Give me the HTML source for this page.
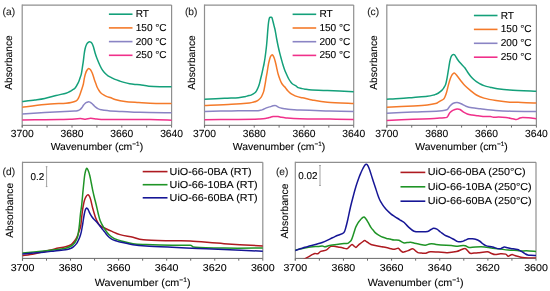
<!DOCTYPE html>
<html><head><meta charset="utf-8"><title>Figure</title>
<style>html,body{margin:0;padding:0;background:#fff;}body{width:550px;height:291px;overflow:hidden;}svg{display:block;}</style>
</head><body>
<svg width="550" height="291" viewBox="0 0 550 291" font-family="'Liberation Sans', Arial, sans-serif" text-rendering="geometricPrecision" fill="#000" stroke="#000" stroke-width="0.1"><defs><clipPath id="pa"><rect x="22.20" y="5.10" width="149.40" height="120.20"/></clipPath><clipPath id="pb"><rect x="204.50" y="5.10" width="149.20" height="120.20"/></clipPath><clipPath id="pc"><rect x="386.80" y="5.10" width="149.60" height="120.20"/></clipPath><clipPath id="pd"><rect x="22.50" y="162.30" width="240.30" height="96.10"/></clipPath><clipPath id="pe"><rect x="295.30" y="162.30" width="240.70" height="96.10"/></clipPath></defs><line x1="22.20" y1="5.10" x2="171.60" y2="5.10" stroke="#8f8f8f" stroke-width="1.20"/>
<line x1="171.60" y1="5.10" x2="171.60" y2="125.30" stroke="#8f8f8f" stroke-width="1.20"/>
<line x1="22.20" y1="4.50" x2="22.20" y2="127.50" stroke="#8f8f8f" stroke-width="1.20"/>
<line x1="22.20" y1="125.30" x2="171.60" y2="125.30" stroke="#6a6a6a" stroke-width="1.00"/>
<line x1="22.20" y1="125.30" x2="22.20" y2="127.60" stroke="#6a6a6a" stroke-width="1.00"/>
<text x="22.20" y="136.90" font-size="10.30" text-anchor="middle">3700</text>
<line x1="72.00" y1="125.30" x2="72.00" y2="127.60" stroke="#6a6a6a" stroke-width="1.00"/>
<text x="72.00" y="136.90" font-size="10.30" text-anchor="middle">3680</text>
<line x1="121.80" y1="125.30" x2="121.80" y2="127.60" stroke="#6a6a6a" stroke-width="1.00"/>
<text x="121.80" y="136.90" font-size="10.30" text-anchor="middle">3660</text>
<line x1="171.60" y1="125.30" x2="171.60" y2="127.60" stroke="#6a6a6a" stroke-width="1.00"/>
<text x="171.60" y="136.90" font-size="10.30" text-anchor="middle">3640</text>
<line x1="47.10" y1="125.30" x2="47.10" y2="127.60" stroke="#6a6a6a" stroke-width="1.00"/>
<line x1="96.90" y1="125.30" x2="96.90" y2="127.60" stroke="#6a6a6a" stroke-width="1.00"/>
<line x1="146.70" y1="125.30" x2="146.70" y2="127.60" stroke="#6a6a6a" stroke-width="1.00"/>
<text x="96.90" y="149.70" font-size="10.20" text-anchor="middle" transform="translate(96.90 0) scale(1.0200 1) translate(-96.90 0)">Wavenumber (cm<tspan font-size="6.32" dy="-4">&#8722;1</tspan><tspan dy="4">)</tspan></text>
<text x="12.20" y="62.50" font-size="10.20" text-anchor="middle" transform="rotate(-90 12.20 62.50) translate(12.20 62.50) scale(1.0000 1) translate(-12.20 -62.50)">Absorbance</text>
<text x="2.60" y="14.50" font-size="10.20" text-anchor="start" fill="#222" stroke="#222">(a)</text>
<line x1="204.50" y1="5.10" x2="353.70" y2="5.10" stroke="#8f8f8f" stroke-width="1.20"/>
<line x1="353.70" y1="5.10" x2="353.70" y2="125.30" stroke="#8f8f8f" stroke-width="1.20"/>
<line x1="204.50" y1="4.50" x2="204.50" y2="127.50" stroke="#8f8f8f" stroke-width="1.20"/>
<line x1="204.50" y1="125.30" x2="353.70" y2="125.30" stroke="#6a6a6a" stroke-width="1.00"/>
<line x1="204.50" y1="125.30" x2="204.50" y2="127.60" stroke="#6a6a6a" stroke-width="1.00"/>
<text x="204.50" y="136.90" font-size="10.30" text-anchor="middle">3700</text>
<line x1="254.23" y1="125.30" x2="254.23" y2="127.60" stroke="#6a6a6a" stroke-width="1.00"/>
<text x="254.23" y="136.90" font-size="10.30" text-anchor="middle">3680</text>
<line x1="303.97" y1="125.30" x2="303.97" y2="127.60" stroke="#6a6a6a" stroke-width="1.00"/>
<text x="303.97" y="136.90" font-size="10.30" text-anchor="middle">3660</text>
<line x1="353.70" y1="125.30" x2="353.70" y2="127.60" stroke="#6a6a6a" stroke-width="1.00"/>
<text x="353.70" y="136.90" font-size="10.30" text-anchor="middle">3640</text>
<line x1="229.37" y1="125.30" x2="229.37" y2="127.60" stroke="#6a6a6a" stroke-width="1.00"/>
<line x1="279.10" y1="125.30" x2="279.10" y2="127.60" stroke="#6a6a6a" stroke-width="1.00"/>
<line x1="328.83" y1="125.30" x2="328.83" y2="127.60" stroke="#6a6a6a" stroke-width="1.00"/>
<text x="279.10" y="149.70" font-size="10.20" text-anchor="middle" transform="translate(279.10 0) scale(1.0200 1) translate(-279.10 0)">Wavenumber (cm<tspan font-size="6.32" dy="-4">&#8722;1</tspan><tspan dy="4">)</tspan></text>
<text x="194.50" y="62.50" font-size="10.20" text-anchor="middle" transform="rotate(-90 194.50 62.50) translate(194.50 62.50) scale(1.0000 1) translate(-194.50 -62.50)">Absorbance</text>
<text x="184.90" y="14.50" font-size="10.20" text-anchor="start" fill="#222" stroke="#222">(b)</text>
<line x1="386.80" y1="5.10" x2="536.40" y2="5.10" stroke="#8f8f8f" stroke-width="1.20"/>
<line x1="536.40" y1="5.10" x2="536.40" y2="125.30" stroke="#8f8f8f" stroke-width="1.20"/>
<line x1="386.80" y1="4.50" x2="386.80" y2="127.50" stroke="#8f8f8f" stroke-width="1.20"/>
<line x1="386.80" y1="125.30" x2="536.40" y2="125.30" stroke="#6a6a6a" stroke-width="1.00"/>
<line x1="386.80" y1="125.30" x2="386.80" y2="127.60" stroke="#6a6a6a" stroke-width="1.00"/>
<text x="386.80" y="136.90" font-size="10.30" text-anchor="middle">3700</text>
<line x1="436.67" y1="125.30" x2="436.67" y2="127.60" stroke="#6a6a6a" stroke-width="1.00"/>
<text x="436.67" y="136.90" font-size="10.30" text-anchor="middle">3680</text>
<line x1="486.53" y1="125.30" x2="486.53" y2="127.60" stroke="#6a6a6a" stroke-width="1.00"/>
<text x="486.53" y="136.90" font-size="10.30" text-anchor="middle">3660</text>
<line x1="536.40" y1="125.30" x2="536.40" y2="127.60" stroke="#6a6a6a" stroke-width="1.00"/>
<text x="536.40" y="136.90" font-size="10.30" text-anchor="middle">3640</text>
<line x1="411.73" y1="125.30" x2="411.73" y2="127.60" stroke="#6a6a6a" stroke-width="1.00"/>
<line x1="461.60" y1="125.30" x2="461.60" y2="127.60" stroke="#6a6a6a" stroke-width="1.00"/>
<line x1="511.47" y1="125.30" x2="511.47" y2="127.60" stroke="#6a6a6a" stroke-width="1.00"/>
<text x="461.60" y="149.70" font-size="10.20" text-anchor="middle" transform="translate(461.60 0) scale(1.0200 1) translate(-461.60 0)">Wavenumber (cm<tspan font-size="6.32" dy="-4">&#8722;1</tspan><tspan dy="4">)</tspan></text>
<text x="376.80" y="62.50" font-size="10.20" text-anchor="middle" transform="rotate(-90 376.80 62.50) translate(376.80 62.50) scale(1.0000 1) translate(-376.80 -62.50)">Absorbance</text>
<text x="367.20" y="14.50" font-size="10.20" text-anchor="start" fill="#222" stroke="#222">(c)</text>
<line x1="22.50" y1="162.30" x2="262.80" y2="162.30" stroke="#8f8f8f" stroke-width="1.20"/>
<line x1="262.80" y1="162.30" x2="262.80" y2="258.40" stroke="#8f8f8f" stroke-width="1.20"/>
<line x1="22.50" y1="161.70" x2="22.50" y2="260.60" stroke="#8f8f8f" stroke-width="1.20"/>
<line x1="22.50" y1="258.40" x2="262.80" y2="258.40" stroke="#6a6a6a" stroke-width="1.00"/>
<line x1="22.50" y1="258.40" x2="22.50" y2="260.70" stroke="#6a6a6a" stroke-width="1.00"/>
<text x="22.50" y="271.00" font-size="10.00" text-anchor="middle" transform="translate(22.50 0) scale(1.0660 1) translate(-22.50 0)">3700</text>
<line x1="70.56" y1="258.40" x2="70.56" y2="260.70" stroke="#6a6a6a" stroke-width="1.00"/>
<text x="70.56" y="271.00" font-size="10.00" text-anchor="middle" transform="translate(70.56 0) scale(1.0660 1) translate(-70.56 0)">3680</text>
<line x1="118.62" y1="258.40" x2="118.62" y2="260.70" stroke="#6a6a6a" stroke-width="1.00"/>
<text x="118.62" y="271.00" font-size="10.00" text-anchor="middle" transform="translate(118.62 0) scale(1.0660 1) translate(-118.62 0)">3660</text>
<line x1="166.68" y1="258.40" x2="166.68" y2="260.70" stroke="#6a6a6a" stroke-width="1.00"/>
<text x="166.68" y="271.00" font-size="10.00" text-anchor="middle" transform="translate(166.68 0) scale(1.0660 1) translate(-166.68 0)">3640</text>
<line x1="214.74" y1="258.40" x2="214.74" y2="260.70" stroke="#6a6a6a" stroke-width="1.00"/>
<text x="214.74" y="271.00" font-size="10.00" text-anchor="middle" transform="translate(214.74 0) scale(1.0660 1) translate(-214.74 0)">3620</text>
<line x1="262.80" y1="258.40" x2="262.80" y2="260.70" stroke="#6a6a6a" stroke-width="1.00"/>
<text x="262.80" y="271.00" font-size="10.00" text-anchor="middle" transform="translate(262.80 0) scale(1.0660 1) translate(-262.80 0)">3600</text>
<line x1="46.53" y1="258.40" x2="46.53" y2="260.70" stroke="#6a6a6a" stroke-width="1.00"/>
<line x1="94.59" y1="258.40" x2="94.59" y2="260.70" stroke="#6a6a6a" stroke-width="1.00"/>
<line x1="142.65" y1="258.40" x2="142.65" y2="260.70" stroke="#6a6a6a" stroke-width="1.00"/>
<line x1="190.71" y1="258.40" x2="190.71" y2="260.70" stroke="#6a6a6a" stroke-width="1.00"/>
<line x1="238.77" y1="258.40" x2="238.77" y2="260.70" stroke="#6a6a6a" stroke-width="1.00"/>
<text x="142.65" y="285.80" font-size="10.30" text-anchor="middle" transform="translate(142.65 0) scale(1.0450 1) translate(-142.65 0)">Wavenumber (cm<tspan font-size="6.39" dy="-4">&#8722;1</tspan><tspan dy="4">)</tspan></text>
<text x="13.20" y="210.30" font-size="10.30" text-anchor="middle" transform="rotate(-90 13.20 210.30) translate(13.20 210.30) scale(1.0000 1) translate(-13.20 -210.30)">Absorbance</text>
<text x="2.60" y="174.50" font-size="10.20" text-anchor="start" fill="#222" stroke="#222">(d)</text>
<line x1="295.30" y1="162.30" x2="536.00" y2="162.30" stroke="#8f8f8f" stroke-width="1.20"/>
<line x1="536.00" y1="162.30" x2="536.00" y2="258.40" stroke="#8f8f8f" stroke-width="1.20"/>
<line x1="295.30" y1="161.70" x2="295.30" y2="260.60" stroke="#8f8f8f" stroke-width="1.20"/>
<line x1="295.30" y1="258.40" x2="536.00" y2="258.40" stroke="#6a6a6a" stroke-width="1.00"/>
<line x1="295.30" y1="258.40" x2="295.30" y2="260.70" stroke="#6a6a6a" stroke-width="1.00"/>
<text x="295.30" y="271.00" font-size="10.00" text-anchor="middle" transform="translate(295.30 0) scale(1.0660 1) translate(-295.30 0)">3700</text>
<line x1="343.44" y1="258.40" x2="343.44" y2="260.70" stroke="#6a6a6a" stroke-width="1.00"/>
<text x="343.44" y="271.00" font-size="10.00" text-anchor="middle" transform="translate(343.44 0) scale(1.0660 1) translate(-343.44 0)">3680</text>
<line x1="391.58" y1="258.40" x2="391.58" y2="260.70" stroke="#6a6a6a" stroke-width="1.00"/>
<text x="391.58" y="271.00" font-size="10.00" text-anchor="middle" transform="translate(391.58 0) scale(1.0660 1) translate(-391.58 0)">3660</text>
<line x1="439.72" y1="258.40" x2="439.72" y2="260.70" stroke="#6a6a6a" stroke-width="1.00"/>
<text x="439.72" y="271.00" font-size="10.00" text-anchor="middle" transform="translate(439.72 0) scale(1.0660 1) translate(-439.72 0)">3640</text>
<line x1="487.86" y1="258.40" x2="487.86" y2="260.70" stroke="#6a6a6a" stroke-width="1.00"/>
<text x="487.86" y="271.00" font-size="10.00" text-anchor="middle" transform="translate(487.86 0) scale(1.0660 1) translate(-487.86 0)">3620</text>
<line x1="536.00" y1="258.40" x2="536.00" y2="260.70" stroke="#6a6a6a" stroke-width="1.00"/>
<text x="536.00" y="271.00" font-size="10.00" text-anchor="middle" transform="translate(536.00 0) scale(1.0660 1) translate(-536.00 0)">3600</text>
<line x1="319.37" y1="258.40" x2="319.37" y2="260.70" stroke="#6a6a6a" stroke-width="1.00"/>
<line x1="367.51" y1="258.40" x2="367.51" y2="260.70" stroke="#6a6a6a" stroke-width="1.00"/>
<line x1="415.65" y1="258.40" x2="415.65" y2="260.70" stroke="#6a6a6a" stroke-width="1.00"/>
<line x1="463.79" y1="258.40" x2="463.79" y2="260.70" stroke="#6a6a6a" stroke-width="1.00"/>
<line x1="511.93" y1="258.40" x2="511.93" y2="260.70" stroke="#6a6a6a" stroke-width="1.00"/>
<text x="415.65" y="285.80" font-size="10.30" text-anchor="middle" transform="translate(415.65 0) scale(1.0450 1) translate(-415.65 0)">Wavenumber (cm<tspan font-size="6.39" dy="-4">&#8722;1</tspan><tspan dy="4">)</tspan></text>
<text x="287.90" y="211.00" font-size="10.30" text-anchor="middle" transform="rotate(-90 287.90 211.00) translate(287.90 211.00) scale(1.0000 1) translate(-287.90 -211.00)">Absorbance</text>
<text x="275.90" y="174.50" font-size="10.20" text-anchor="start" fill="#222" stroke="#222">(e)</text>
<path d="M22.20,101.50 C24.33,101.25 31.25,100.50 35.00,100.00 C38.75,99.50 41.20,99.25 44.70,98.50 C48.20,97.75 52.45,96.38 56.00,95.50 C59.55,94.62 63.70,93.87 66.00,93.20 C68.30,92.53 68.72,92.07 69.80,91.50 C70.88,90.93 71.65,90.35 72.50,89.80 C73.35,89.25 74.15,89.00 74.90,88.20 C75.65,87.40 76.37,86.07 77.00,85.00 C77.63,83.93 78.20,82.97 78.70,81.80 C79.20,80.63 79.57,79.27 80.00,78.00 C80.43,76.73 80.92,75.87 81.30,74.20 C81.68,72.53 81.97,70.13 82.30,68.00 C82.63,65.87 82.98,63.73 83.30,61.40 C83.62,59.07 83.90,56.12 84.20,54.00 C84.50,51.88 84.72,50.28 85.10,48.70 C85.48,47.12 85.98,45.57 86.50,44.50 C87.02,43.43 87.60,42.73 88.20,42.30 C88.80,41.87 89.47,41.73 90.10,41.90 C90.73,42.07 91.43,42.45 92.00,43.30 C92.57,44.15 92.98,45.38 93.50,47.00 C94.02,48.62 94.52,51.08 95.10,53.00 C95.68,54.92 96.15,56.33 97.00,58.50 C97.85,60.67 99.28,64.05 100.20,66.00 C101.12,67.95 101.65,68.95 102.50,70.20 C103.35,71.45 104.38,72.57 105.30,73.50 C106.22,74.43 106.98,75.12 108.00,75.80 C109.02,76.48 110.23,77.00 111.40,77.60 C112.57,78.20 113.65,78.83 115.00,79.40 C116.35,79.97 118.00,80.50 119.50,81.00 C121.00,81.50 122.32,81.95 124.00,82.40 C125.68,82.85 127.77,83.37 129.60,83.70 C131.43,84.03 133.27,84.22 135.00,84.40 C136.73,84.58 137.68,84.50 140.00,84.80 C142.32,85.10 145.57,85.87 148.90,86.20 C152.23,86.53 156.27,86.70 160.00,86.80 C163.73,86.90 169.42,86.80 171.30,86.80" fill="none" stroke="#14a07a" stroke-width="1.50" stroke-linejoin="round" stroke-linecap="round" clip-path="url(#pa)"/>
<path d="M22.20,107.20 C25.95,106.73 37.40,105.07 44.70,104.40 C52.00,103.73 61.45,103.55 66.00,103.20 C70.55,102.85 70.30,102.68 72.00,102.30 C73.70,101.92 75.12,101.62 76.20,100.90 C77.28,100.18 77.87,99.07 78.50,98.00 C79.13,96.93 79.50,95.83 80.00,94.50 C80.50,93.17 80.95,91.70 81.50,90.00 C82.05,88.30 82.83,86.22 83.30,84.30 C83.77,82.38 83.97,80.18 84.30,78.50 C84.63,76.82 84.88,75.53 85.30,74.20 C85.72,72.87 86.23,71.45 86.80,70.50 C87.37,69.55 88.08,68.62 88.70,68.50 C89.32,68.38 89.95,69.13 90.50,69.80 C91.05,70.47 91.57,71.55 92.00,72.50 C92.43,73.45 92.68,74.25 93.10,75.50 C93.52,76.75 94.02,78.58 94.50,80.00 C94.98,81.42 95.55,82.80 96.00,84.00 C96.45,85.20 96.70,86.12 97.20,87.20 C97.70,88.28 98.33,89.48 99.00,90.50 C99.67,91.52 100.33,92.52 101.20,93.30 C102.07,94.08 103.23,94.65 104.20,95.20 C105.17,95.75 105.87,96.17 107.00,96.60 C108.13,97.03 109.67,97.32 111.00,97.80 C112.33,98.28 112.67,98.88 115.00,99.50 C117.33,100.12 121.07,101.00 125.00,101.50 C128.93,102.00 134.43,102.22 138.60,102.50 C142.77,102.78 144.55,103.02 150.00,103.20 C155.45,103.38 167.75,103.53 171.30,103.60" fill="none" stroke="#f47a2a" stroke-width="1.50" stroke-linejoin="round" stroke-linecap="round" clip-path="url(#pa)"/>
<path d="M22.20,114.00 C25.95,113.77 36.73,113.05 44.70,112.60 C52.67,112.15 64.75,111.57 70.00,111.30 C75.25,111.03 74.78,111.15 76.20,111.00 C77.62,110.85 77.82,110.67 78.50,110.40 C79.18,110.13 79.72,109.88 80.30,109.40 C80.88,108.92 81.48,108.18 82.00,107.50 C82.52,106.82 82.90,105.97 83.40,105.30 C83.90,104.63 84.48,103.98 85.00,103.50 C85.52,103.02 86.00,102.67 86.50,102.40 C87.00,102.13 87.57,101.98 88.00,101.90 C88.43,101.82 88.65,101.78 89.10,101.90 C89.55,102.02 90.18,102.28 90.70,102.60 C91.22,102.92 91.68,103.33 92.20,103.80 C92.72,104.27 93.28,104.88 93.80,105.40 C94.32,105.92 94.80,106.47 95.30,106.90 C95.80,107.33 96.28,107.67 96.80,108.00 C97.32,108.33 97.70,108.62 98.40,108.90 C99.10,109.18 100.07,109.47 101.00,109.70 C101.93,109.93 102.50,110.10 104.00,110.30 C105.50,110.50 107.00,110.72 110.00,110.90 C113.00,111.08 117.00,111.17 122.00,111.40 C127.00,111.63 131.73,112.08 140.00,112.30 C148.27,112.52 166.33,112.63 171.60,112.70" fill="none" stroke="#8a84c4" stroke-width="1.50" stroke-linejoin="round" stroke-linecap="round" clip-path="url(#pa)"/>
<path d="M22.20,120.00 C26.00,119.95 38.70,119.78 45.00,119.70 C51.30,119.62 55.83,119.57 60.00,119.50 C64.17,119.43 66.62,119.45 70.00,119.30 C73.38,119.15 77.72,118.62 80.30,118.60 C82.88,118.58 83.78,119.25 85.50,119.20 C87.22,119.15 88.72,118.33 90.60,118.30 C92.48,118.27 94.57,118.78 96.80,119.00 C99.03,119.22 100.13,119.52 104.00,119.60 C107.87,119.68 112.33,119.50 120.00,119.50 C127.67,119.50 141.40,119.48 150.00,119.60 C158.60,119.72 168.00,120.10 171.60,120.20" fill="none" stroke="#f0308a" stroke-width="1.50" stroke-linejoin="round" stroke-linecap="round" clip-path="url(#pa)"/>
<path d="M204.50,99.30 C207.85,99.13 218.95,98.57 224.60,98.30 C230.25,98.03 235.00,97.97 238.40,97.70 C241.80,97.43 243.40,97.02 245.00,96.70 C246.60,96.38 247.00,96.07 248.00,95.80 C249.00,95.53 249.90,95.57 251.00,95.10 C252.10,94.63 253.68,93.72 254.60,93.00 C255.52,92.28 255.95,91.63 256.50,90.80 C257.05,89.97 257.45,89.05 257.90,88.00 C258.35,86.95 258.78,85.87 259.20,84.50 C259.62,83.13 259.98,81.47 260.40,79.80 C260.82,78.13 261.28,76.30 261.70,74.50 C262.12,72.70 262.52,70.75 262.90,69.00 C263.28,67.25 263.65,65.83 264.00,64.00 C264.35,62.17 264.70,60.00 265.00,58.00 C265.30,56.00 265.53,54.17 265.80,52.00 C266.07,49.83 266.37,47.33 266.60,45.00 C266.83,42.67 267.00,40.50 267.20,38.00 C267.40,35.50 267.57,32.67 267.80,30.00 C268.03,27.33 268.30,24.07 268.60,22.00 C268.90,19.93 269.23,18.38 269.60,17.60 C269.97,16.82 270.42,17.30 270.80,17.30 C271.18,17.30 271.53,16.90 271.90,17.60 C272.27,18.30 272.65,20.17 273.00,21.50 C273.35,22.83 273.65,24.18 274.00,25.60 C274.35,27.02 274.67,27.85 275.10,30.00 C275.53,32.15 276.08,35.75 276.60,38.50 C277.12,41.25 277.68,44.10 278.20,46.50 C278.72,48.90 279.18,50.83 279.70,52.90 C280.22,54.97 280.78,57.00 281.30,58.90 C281.82,60.80 282.28,62.58 282.80,64.30 C283.32,66.02 283.80,67.58 284.40,69.20 C285.00,70.82 285.72,72.45 286.40,74.00 C287.08,75.55 287.82,77.23 288.50,78.50 C289.18,79.77 289.82,80.68 290.50,81.60 C291.18,82.52 291.68,83.28 292.60,84.00 C293.52,84.72 295.08,85.30 296.00,85.90 C296.92,86.50 297.18,87.17 298.10,87.60 C299.02,88.03 300.35,88.23 301.50,88.50 C302.65,88.77 303.23,88.95 305.00,89.20 C306.77,89.45 308.37,89.78 312.10,90.00 C315.83,90.22 320.47,90.20 327.40,90.50 C334.33,90.80 349.32,91.58 353.70,91.80" fill="none" stroke="#14a07a" stroke-width="1.50" stroke-linejoin="round" stroke-linecap="round" clip-path="url(#pb)"/>
<path d="M204.50,105.60 C209.00,105.38 224.02,104.75 231.50,104.30 C238.98,103.85 245.82,103.25 249.40,102.90 C252.98,102.55 251.85,102.47 253.00,102.20 C254.15,101.93 255.30,101.75 256.30,101.30 C257.30,100.85 258.18,100.20 259.00,99.50 C259.82,98.80 260.62,97.93 261.20,97.10 C261.78,96.27 262.08,95.45 262.50,94.50 C262.92,93.55 263.37,92.57 263.70,91.40 C264.03,90.23 264.23,88.88 264.50,87.50 C264.77,86.12 265.03,84.68 265.30,83.10 C265.57,81.52 265.82,79.65 266.10,78.00 C266.38,76.35 266.72,74.87 267.00,73.20 C267.28,71.53 267.53,69.65 267.80,68.00 C268.07,66.35 268.32,64.68 268.60,63.30 C268.88,61.92 269.18,60.82 269.50,59.70 C269.82,58.58 270.10,57.40 270.50,56.60 C270.90,55.80 271.48,55.08 271.90,54.90 C272.32,54.72 272.63,55.02 273.00,55.50 C273.37,55.98 273.75,56.88 274.10,57.80 C274.45,58.72 274.77,59.80 275.10,61.00 C275.43,62.20 275.77,63.55 276.10,65.00 C276.43,66.45 276.75,68.15 277.10,69.70 C277.45,71.25 277.77,72.78 278.20,74.30 C278.63,75.82 279.18,77.42 279.70,78.80 C280.22,80.18 280.70,81.48 281.30,82.60 C281.90,83.72 282.62,84.65 283.30,85.50 C283.98,86.35 284.70,86.87 285.40,87.70 C286.10,88.53 286.75,89.65 287.50,90.50 C288.25,91.35 288.95,92.08 289.90,92.80 C290.85,93.52 292.07,94.20 293.20,94.80 C294.33,95.40 295.43,95.95 296.70,96.40 C297.97,96.85 299.42,97.18 300.80,97.50 C302.18,97.82 303.12,97.88 305.00,98.30 C306.88,98.72 308.37,99.35 312.10,100.00 C315.83,100.65 320.47,101.62 327.40,102.20 C334.33,102.78 349.32,103.28 353.70,103.50" fill="none" stroke="#f47a2a" stroke-width="1.50" stroke-linejoin="round" stroke-linecap="round" clip-path="url(#pb)"/>
<path d="M204.50,111.40 C209.00,111.32 223.08,111.02 231.50,110.90 C239.92,110.78 250.22,110.80 255.00,110.70 C259.78,110.60 258.87,110.50 260.20,110.30 C261.53,110.10 262.15,109.82 263.00,109.50 C263.85,109.18 264.47,108.75 265.30,108.40 C266.13,108.05 267.13,107.70 268.00,107.40 C268.87,107.10 269.67,106.87 270.50,106.60 C271.33,106.33 272.23,105.98 273.00,105.80 C273.77,105.62 274.52,105.48 275.10,105.50 C275.68,105.52 276.07,105.70 276.50,105.90 C276.93,106.10 277.20,106.42 277.70,106.70 C278.20,106.98 278.82,107.35 279.50,107.60 C280.18,107.85 280.97,108.02 281.80,108.20 C282.63,108.38 283.47,108.53 284.50,108.70 C285.53,108.87 286.42,109.03 288.00,109.20 C289.58,109.37 292.00,109.57 294.00,109.70 C296.00,109.83 296.50,109.87 300.00,110.00 C303.50,110.13 310.00,110.32 315.00,110.50 C320.00,110.68 323.55,110.95 330.00,111.10 C336.45,111.25 349.75,111.35 353.70,111.40" fill="none" stroke="#8a84c4" stroke-width="1.50" stroke-linejoin="round" stroke-linecap="round" clip-path="url(#pb)"/>
<path d="M204.50,119.70 C209.00,119.67 223.08,119.57 231.50,119.50 C239.92,119.43 250.25,119.38 255.00,119.30 C259.75,119.22 258.28,119.13 260.00,119.00 C261.72,118.87 263.97,118.68 265.30,118.50 C266.63,118.32 267.13,118.12 268.00,117.90 C268.87,117.68 269.67,117.42 270.50,117.20 C271.33,116.98 272.15,116.73 273.00,116.60 C273.85,116.47 274.77,116.40 275.60,116.40 C276.43,116.40 277.13,116.47 278.00,116.60 C278.87,116.73 279.47,116.98 280.80,117.20 C282.13,117.42 282.80,117.65 286.00,117.90 C289.20,118.15 292.67,118.50 300.00,118.70 C307.33,118.90 321.05,118.98 330.00,119.10 C338.95,119.22 349.75,119.35 353.70,119.40" fill="none" stroke="#f0308a" stroke-width="1.50" stroke-linejoin="round" stroke-linecap="round" clip-path="url(#pb)"/>
<path d="M386.80,99.20 C388.97,99.08 395.35,98.80 399.80,98.50 C404.25,98.20 408.92,97.77 413.50,97.40 C418.08,97.03 423.87,96.72 427.30,96.30 C430.73,95.88 432.65,95.25 434.10,94.90 C435.55,94.55 435.27,94.52 436.00,94.20 C436.73,93.88 437.53,93.63 438.50,93.00 C439.47,92.37 440.92,91.27 441.80,90.40 C442.68,89.53 443.17,88.77 443.80,87.80 C444.43,86.83 445.10,85.98 445.60,84.60 C446.10,83.22 446.42,81.42 446.80,79.50 C447.18,77.58 447.55,75.18 447.90,73.10 C448.25,71.02 448.58,68.93 448.90,67.00 C449.22,65.07 449.45,63.17 449.80,61.50 C450.15,59.83 450.58,58.10 451.00,57.00 C451.42,55.90 451.88,55.33 452.30,54.90 C452.72,54.47 453.13,54.42 453.50,54.40 C453.87,54.38 454.12,54.43 454.50,54.80 C454.88,55.17 455.35,55.90 455.80,56.60 C456.25,57.30 456.67,58.18 457.20,59.00 C457.73,59.82 458.28,60.62 459.00,61.50 C459.72,62.38 460.53,63.25 461.50,64.30 C462.47,65.35 463.80,66.52 464.80,67.80 C465.80,69.08 466.53,70.60 467.50,72.00 C468.47,73.40 469.60,74.98 470.60,76.20 C471.60,77.42 472.53,78.38 473.50,79.30 C474.47,80.22 475.32,80.95 476.40,81.70 C477.48,82.45 478.73,83.15 480.00,83.80 C481.27,84.45 482.33,85.03 484.00,85.60 C485.67,86.17 488.00,86.72 490.00,87.20 C492.00,87.68 492.70,88.02 496.00,88.50 C499.30,88.98 503.10,89.63 509.80,90.10 C516.50,90.57 531.80,91.10 536.20,91.30" fill="none" stroke="#14a07a" stroke-width="1.50" stroke-linejoin="round" stroke-linecap="round" clip-path="url(#pc)"/>
<path d="M386.80,107.30 C391.25,107.07 406.75,106.30 413.50,105.90 C420.25,105.50 423.63,105.28 427.30,104.90 C430.97,104.52 433.72,104.02 435.50,103.60 C437.28,103.18 437.08,102.90 438.00,102.40 C438.92,101.90 440.05,101.17 441.00,100.60 C441.95,100.03 442.98,99.77 443.70,99.00 C444.42,98.23 444.82,97.12 445.30,96.00 C445.78,94.88 446.22,93.58 446.60,92.30 C446.98,91.02 447.28,89.58 447.60,88.30 C447.92,87.02 448.10,86.07 448.50,84.60 C448.90,83.13 449.52,80.93 450.00,79.50 C450.48,78.07 450.90,76.95 451.40,76.00 C451.90,75.05 452.52,74.28 453.00,73.80 C453.48,73.32 453.83,73.03 454.30,73.10 C454.77,73.17 455.32,73.72 455.80,74.20 C456.28,74.68 456.33,74.87 457.20,76.00 C458.07,77.13 459.73,79.42 461.00,81.00 C462.27,82.58 463.20,83.90 464.80,85.50 C466.40,87.10 468.67,89.02 470.60,90.60 C472.53,92.18 474.17,93.75 476.40,95.00 C478.63,96.25 480.73,97.18 484.00,98.10 C487.27,99.02 491.70,99.82 496.00,100.50 C500.30,101.18 505.55,101.88 509.80,102.20 C514.05,102.52 517.10,102.25 521.50,102.40 C525.90,102.55 533.75,102.98 536.20,103.10" fill="none" stroke="#f47a2a" stroke-width="1.50" stroke-linejoin="round" stroke-linecap="round" clip-path="url(#pc)"/>
<path d="M386.80,113.20 C391.18,113.02 405.90,112.37 413.10,112.10 C420.30,111.83 425.18,111.83 430.00,111.60 C434.82,111.37 439.20,111.00 442.00,110.70 C444.80,110.40 445.72,110.25 446.80,109.80 C447.88,109.35 448.00,108.60 448.50,108.00 C449.00,107.40 449.08,106.95 449.80,106.20 C450.52,105.45 451.60,104.13 452.80,103.50 C454.00,102.87 455.58,102.35 457.00,102.40 C458.42,102.45 459.80,103.17 461.30,103.80 C462.80,104.43 464.22,105.53 466.00,106.20 C467.78,106.87 469.58,107.37 472.00,107.80 C474.42,108.23 476.58,108.37 480.50,108.80 C484.42,109.23 490.42,110.00 495.50,110.40 C500.58,110.80 504.22,111.03 511.00,111.20 C517.78,111.37 532.00,111.37 536.20,111.40" fill="none" stroke="#8a84c4" stroke-width="1.50" stroke-linejoin="round" stroke-linecap="round" clip-path="url(#pc)"/>
<path d="M386.80,120.50 C391.18,120.28 405.90,119.48 413.10,119.20 C420.30,118.92 425.18,119.02 430.00,118.80 C434.82,118.58 439.20,118.13 442.00,117.90 C444.80,117.67 445.72,117.88 446.80,117.40 C447.88,116.92 448.00,115.77 448.50,115.00 C449.00,114.23 449.08,113.57 449.80,112.80 C450.52,112.03 451.60,111.03 452.80,110.40 C454.00,109.77 455.80,109.15 457.00,109.00 C458.20,108.85 458.90,108.97 460.00,109.50 C461.10,110.03 462.38,111.45 463.60,112.20 C464.82,112.95 465.90,113.53 467.30,114.00 C468.70,114.47 470.22,114.70 472.00,115.00 C473.78,115.30 475.80,115.53 478.00,115.80 C480.20,116.07 483.13,116.50 485.20,116.60 C487.27,116.70 489.02,116.28 490.40,116.40 C491.78,116.52 492.12,117.18 493.50,117.30 C494.88,117.42 496.63,117.05 498.70,117.10 C500.77,117.15 503.83,117.38 505.90,117.60 C507.97,117.82 509.75,118.15 511.10,118.40 C512.45,118.65 513.13,118.92 514.00,119.10 C514.87,119.28 515.63,119.52 516.30,119.50 C516.97,119.48 517.48,119.22 518.00,119.00 C518.52,118.78 518.65,118.47 519.40,118.20 C520.15,117.93 520.95,117.47 522.50,117.40 C524.05,117.33 526.42,117.58 528.70,117.80 C530.98,118.02 534.95,118.55 536.20,118.70" fill="none" stroke="#f0308a" stroke-width="1.50" stroke-linejoin="round" stroke-linecap="round" clip-path="url(#pc)"/>
<path d="M22.50,255.50 C24.38,255.23 30.25,254.55 33.80,253.90 C37.35,253.25 40.32,252.43 43.80,251.60 C47.28,250.77 51.07,249.72 54.70,248.90 C58.33,248.08 62.87,247.42 65.60,246.70 C68.33,245.98 69.65,245.50 71.10,244.60 C72.55,243.70 73.48,242.23 74.30,241.30 C75.12,240.37 75.45,239.95 76.00,239.00 C76.55,238.05 77.07,236.93 77.60,235.60 C78.13,234.27 78.68,232.57 79.20,231.00 C79.72,229.43 80.32,228.20 80.70,226.20 C81.08,224.20 81.23,221.40 81.50,219.00 C81.77,216.60 82.00,214.05 82.30,211.80 C82.60,209.55 82.95,207.38 83.30,205.50 C83.65,203.62 83.97,201.95 84.40,200.50 C84.83,199.05 85.37,197.73 85.90,196.80 C86.43,195.87 87.05,195.05 87.60,194.90 C88.15,194.75 88.70,195.15 89.20,195.90 C89.70,196.65 90.03,197.43 90.60,199.40 C91.17,201.37 91.75,204.60 92.60,207.70 C93.45,210.80 94.67,215.25 95.70,218.00 C96.73,220.75 97.75,222.73 98.80,224.20 C99.85,225.67 100.97,226.12 102.00,226.80 C103.03,227.48 103.33,227.53 105.00,228.30 C106.67,229.07 109.50,230.35 112.00,231.40 C114.50,232.45 116.50,233.63 120.00,234.60 C123.50,235.57 129.10,236.33 133.00,237.20 C136.90,238.07 136.90,239.20 143.40,239.80 C149.90,240.40 164.20,240.58 172.00,240.80 C179.80,241.02 181.53,240.62 190.20,241.10 C198.87,241.58 211.90,242.88 224.00,243.70 C236.10,244.52 256.33,245.62 262.80,246.00" fill="none" stroke="#ae1a20" stroke-width="1.50" stroke-linejoin="round" stroke-linecap="round" clip-path="url(#pd)"/>
<path d="M22.50,252.90 C26.05,252.60 38.43,251.62 43.80,251.10 C49.17,250.58 51.07,250.28 54.70,249.80 C58.33,249.32 62.87,248.83 65.60,248.20 C68.33,247.57 69.65,246.82 71.10,246.00 C72.55,245.18 73.48,244.22 74.30,243.30 C75.12,242.38 75.45,241.60 76.00,240.50 C76.55,239.40 77.17,238.28 77.60,236.70 C78.03,235.12 78.28,233.12 78.60,231.00 C78.92,228.88 79.20,226.75 79.50,224.00 C79.80,221.25 80.03,217.70 80.40,214.50 C80.77,211.30 81.25,208.88 81.70,204.80 C82.15,200.72 82.72,193.97 83.10,190.00 C83.48,186.03 83.73,183.47 84.00,181.00 C84.27,178.53 84.42,176.95 84.70,175.20 C84.98,173.45 85.37,171.65 85.70,170.50 C86.03,169.35 86.32,168.38 86.70,168.30 C87.08,168.22 87.50,168.85 88.00,170.00 C88.50,171.15 89.15,173.03 89.70,175.20 C90.25,177.37 90.75,180.25 91.30,183.00 C91.85,185.75 92.45,189.12 93.00,191.70 C93.55,194.28 94.07,196.32 94.60,198.50 C95.13,200.68 95.60,202.30 96.20,204.80 C96.80,207.30 97.53,210.83 98.20,213.50 C98.87,216.17 99.32,218.52 100.20,220.80 C101.08,223.08 102.32,225.22 103.50,227.20 C104.68,229.18 106.13,231.23 107.30,232.70 C108.47,234.17 109.32,235.02 110.50,236.00 C111.68,236.98 112.48,237.73 114.40,238.60 C116.32,239.47 118.90,240.35 122.00,241.20 C125.10,242.05 129.00,243.15 133.00,243.70 C137.00,244.25 139.50,244.25 146.00,244.50 C152.50,244.75 164.63,245.07 172.00,245.20 C179.37,245.33 186.30,244.95 190.20,245.30 C194.10,245.65 189.77,246.83 195.40,247.30 C201.03,247.77 212.77,247.97 224.00,248.10 C235.23,248.23 256.33,248.10 262.80,248.10" fill="none" stroke="#1f9426" stroke-width="1.50" stroke-linejoin="round" stroke-linecap="round" clip-path="url(#pd)"/>
<path d="M22.50,254.00 C26.05,253.70 38.43,252.72 43.80,252.20 C49.17,251.68 51.07,251.30 54.70,250.90 C58.33,250.50 62.87,250.25 65.60,249.80 C68.33,249.35 69.70,248.78 71.10,248.20 C72.50,247.62 73.10,247.07 74.00,246.30 C74.90,245.53 75.83,244.48 76.50,243.60 C77.17,242.72 77.55,241.85 78.00,241.00 C78.45,240.15 78.82,239.42 79.20,238.50 C79.58,237.58 79.95,236.62 80.30,235.50 C80.65,234.38 80.97,233.30 81.30,231.80 C81.63,230.30 81.97,228.47 82.30,226.50 C82.63,224.53 82.97,222.08 83.30,220.00 C83.63,217.92 83.97,215.67 84.30,214.00 C84.63,212.33 84.95,210.98 85.30,210.00 C85.65,209.02 86.02,208.30 86.40,208.10 C86.78,207.90 87.23,208.40 87.60,208.80 C87.97,209.20 88.28,209.87 88.60,210.50 C88.92,211.13 89.10,211.78 89.50,212.60 C89.90,213.42 90.48,214.53 91.00,215.40 C91.52,216.27 91.98,217.03 92.60,217.80 C93.22,218.57 94.02,219.28 94.70,220.00 C95.38,220.72 96.02,221.33 96.70,222.10 C97.38,222.87 98.10,223.73 98.80,224.60 C99.50,225.47 100.20,226.42 100.90,227.30 C101.60,228.18 102.32,229.05 103.00,229.90 C103.68,230.75 104.33,231.55 105.00,232.40 C105.67,233.25 106.32,234.18 107.00,235.00 C107.68,235.82 108.27,236.58 109.10,237.30 C109.93,238.02 110.85,238.72 112.00,239.30 C113.15,239.88 114.67,240.33 116.00,240.80 C117.33,241.27 117.17,241.45 120.00,242.10 C122.83,242.75 128.67,244.05 133.00,244.70 C137.33,245.35 139.50,245.57 146.00,246.00 C152.50,246.43 163.33,246.90 172.00,247.30 C180.67,247.70 189.33,248.05 198.00,248.40 C206.67,248.75 213.20,248.93 224.00,249.40 C234.80,249.87 256.33,250.90 262.80,251.20" fill="none" stroke="#161696" stroke-width="1.50" stroke-linejoin="round" stroke-linecap="round" clip-path="url(#pd)"/>
<path d="M303.00,259.80 C303.28,259.67 303.95,259.42 304.70,259.00 C305.45,258.58 306.53,257.87 307.50,257.30 C308.47,256.73 309.63,256.08 310.50,255.60 C311.37,255.12 311.97,254.75 312.70,254.40 C313.43,254.05 314.05,253.62 314.90,253.50 C315.75,253.38 316.83,254.07 317.80,253.70 C318.77,253.33 319.73,251.78 320.70,251.30 C321.67,250.82 322.63,251.05 323.60,250.80 C324.57,250.55 325.65,250.27 326.50,249.80 C327.35,249.33 327.97,248.57 328.70,248.00 C329.43,247.43 330.05,246.70 330.90,246.40 C331.75,246.10 332.83,246.13 333.80,246.20 C334.77,246.27 335.73,246.62 336.70,246.80 C337.67,246.98 338.52,247.10 339.60,247.30 C340.68,247.50 341.98,247.75 343.20,248.00 C344.42,248.25 345.85,249.03 346.90,248.80 C347.95,248.57 348.65,247.30 349.50,246.60 C350.35,245.90 351.25,244.70 352.00,244.60 C352.75,244.50 353.35,245.53 354.00,246.00 C354.65,246.47 355.23,247.48 355.90,247.40 C356.57,247.32 357.33,246.08 358.00,245.50 C358.67,244.92 359.17,244.48 359.90,243.90 C360.63,243.32 361.60,242.55 362.40,242.00 C363.20,241.45 363.93,240.60 364.70,240.60 C365.47,240.60 366.28,241.55 367.00,242.00 C367.72,242.45 368.33,242.88 369.00,243.30 C369.67,243.72 370.17,244.18 371.00,244.50 C371.83,244.82 372.87,244.95 374.00,245.20 C375.13,245.45 376.47,245.73 377.80,246.00 C379.13,246.27 380.60,246.53 382.00,246.80 C383.40,247.07 384.87,247.32 386.20,247.60 C387.53,247.88 388.88,248.23 390.00,248.50 C391.12,248.77 391.98,249.12 392.90,249.20 C393.82,249.28 394.60,249.17 395.50,249.00 C396.40,248.83 397.47,247.95 398.30,248.20 C399.13,248.45 399.73,249.83 400.50,250.50 C401.27,251.17 402.07,252.03 402.90,252.20 C403.73,252.37 404.63,251.77 405.50,251.50 C406.37,251.23 406.90,251.05 408.10,250.60 C409.30,250.15 411.47,248.77 412.70,248.80 C413.93,248.83 414.63,250.17 415.50,250.80 C416.37,251.43 416.90,252.23 417.90,252.60 C418.90,252.97 420.30,252.88 421.50,253.00 C422.70,253.12 423.63,253.50 425.10,253.30 C426.57,253.10 428.12,252.00 430.30,251.80 C432.48,251.60 435.35,251.95 438.20,252.10 C441.05,252.25 444.35,252.80 447.40,252.70 C450.45,252.60 454.32,251.95 456.50,251.50 C458.68,251.05 459.30,250.45 460.50,250.00 C461.70,249.55 462.87,249.03 463.70,248.80 C464.53,248.57 464.82,248.23 465.50,248.60 C466.18,248.97 467.02,250.22 467.80,251.00 C468.58,251.78 469.17,252.95 470.20,253.30 C471.23,253.65 472.68,253.18 474.00,253.10 C475.32,253.02 475.88,253.02 478.10,252.80 C480.32,252.58 485.15,251.73 487.30,251.80 C489.45,251.87 489.70,252.73 491.00,253.20 C492.30,253.67 493.55,254.52 495.10,254.60 C496.65,254.68 498.55,253.78 500.30,253.70 C502.05,253.62 504.28,253.68 505.60,254.10 C506.92,254.52 507.43,256.00 508.20,256.20 C508.97,256.40 509.55,255.57 510.20,255.30 C510.85,255.03 511.33,254.57 512.10,254.60 C512.87,254.63 513.92,255.22 514.80,255.50 C515.68,255.78 516.10,255.95 517.40,256.30 C518.70,256.65 520.83,257.32 522.60,257.60 C524.37,257.88 525.80,257.93 528.00,258.00 C530.20,258.07 534.50,258.00 535.80,258.00" fill="none" stroke="#ae1a20" stroke-width="1.50" stroke-linejoin="round" stroke-linecap="round" clip-path="url(#pe)"/>
<path d="M295.30,250.00 C297.83,249.48 306.75,247.48 310.50,246.90 C314.25,246.32 315.85,246.67 317.80,246.50 C319.75,246.33 320.98,245.85 322.20,245.90 C323.42,245.95 323.88,246.87 325.10,246.80 C326.32,246.73 327.57,245.90 329.50,245.50 C331.43,245.10 334.28,244.72 336.70,244.40 C339.12,244.08 342.18,243.77 344.00,243.60 C345.82,243.43 346.68,243.67 347.60,243.40 C348.52,243.13 348.88,242.53 349.50,242.00 C350.12,241.47 350.60,241.62 351.30,240.20 C352.00,238.78 353.00,235.57 353.70,233.50 C354.40,231.43 354.92,229.33 355.50,227.80 C356.08,226.27 356.62,225.35 357.20,224.30 C357.78,223.25 358.43,222.28 359.00,221.50 C359.57,220.72 360.05,220.22 360.60,219.60 C361.15,218.98 361.72,218.23 362.30,217.80 C362.88,217.37 363.52,216.83 364.10,217.00 C364.68,217.17 365.23,218.08 365.80,218.80 C366.37,219.52 366.93,220.38 367.50,221.30 C368.07,222.22 368.63,223.30 369.20,224.30 C369.77,225.30 370.18,226.25 370.90,227.30 C371.62,228.35 372.63,229.58 373.50,230.60 C374.37,231.62 375.10,232.57 376.10,233.40 C377.10,234.23 378.35,234.95 379.50,235.60 C380.65,236.25 381.83,236.83 383.00,237.30 C384.17,237.77 385.33,238.12 386.50,238.40 C387.67,238.68 388.75,238.73 390.00,239.00 C391.25,239.27 392.52,239.78 394.00,240.00 C395.48,240.22 397.32,239.83 398.90,240.30 C400.48,240.77 402.15,242.42 403.50,242.80 C404.85,243.18 405.80,242.68 407.00,242.60 C408.20,242.52 409.45,242.20 410.70,242.30 C411.95,242.40 413.18,242.92 414.50,243.20 C415.82,243.48 416.83,243.67 418.60,244.00 C420.37,244.33 423.45,245.15 425.10,245.20 C426.75,245.25 427.42,244.55 428.50,244.30 C429.58,244.05 430.35,243.68 431.60,243.70 C432.85,243.72 434.47,244.20 436.00,244.40 C437.53,244.60 438.25,244.70 440.80,244.90 C443.35,245.10 448.47,245.38 451.30,245.60 C454.13,245.82 455.85,246.23 457.80,246.20 C459.75,246.17 461.72,245.47 463.00,245.40 C464.28,245.33 464.52,245.47 465.50,245.80 C466.48,246.13 467.23,247.22 468.90,247.40 C470.57,247.58 472.88,246.98 475.50,246.90 C478.12,246.82 481.98,246.70 484.60,246.90 C487.22,247.10 488.80,247.78 491.20,248.10 C493.60,248.42 496.17,248.47 499.00,248.80 C501.83,249.13 505.13,249.82 508.20,250.10 C511.27,250.38 515.22,250.33 517.40,250.50 C519.58,250.67 519.78,251.05 521.30,251.10 C522.82,251.15 524.08,250.75 526.50,250.80 C528.92,250.85 534.25,251.30 535.80,251.40" fill="none" stroke="#1f9426" stroke-width="1.50" stroke-linejoin="round" stroke-linecap="round" clip-path="url(#pe)"/>
<path d="M295.30,250.50 C296.93,249.97 302.57,248.08 305.10,247.30 C307.63,246.52 307.65,246.60 310.50,245.80 C313.35,245.00 318.55,243.83 322.20,242.50 C325.85,241.17 329.77,239.02 332.40,237.80 C335.03,236.58 336.12,236.03 338.00,235.20 C339.88,234.37 342.40,234.08 343.70,232.80 C345.00,231.52 345.12,229.72 345.80,227.50 C346.48,225.28 347.02,222.92 347.80,219.50 C348.58,216.08 349.58,210.92 350.50,207.00 C351.42,203.08 352.38,199.45 353.30,196.00 C354.22,192.55 355.08,189.30 356.00,186.30 C356.92,183.30 358.00,180.22 358.80,178.00 C359.60,175.78 360.12,174.58 360.80,173.00 C361.48,171.42 362.23,169.80 362.90,168.50 C363.57,167.20 364.22,165.92 364.80,165.20 C365.38,164.48 365.87,164.10 366.40,164.20 C366.93,164.30 367.45,164.83 368.00,165.80 C368.55,166.77 368.97,167.88 369.70,170.00 C370.43,172.12 371.48,175.67 372.40,178.50 C373.32,181.33 374.28,184.22 375.20,187.00 C376.12,189.78 377.13,193.03 377.90,195.20 C378.67,197.37 379.12,198.57 379.80,200.00 C380.48,201.43 381.17,202.50 382.00,203.80 C382.83,205.10 383.88,206.63 384.80,207.80 C385.72,208.97 386.50,209.80 387.50,210.80 C388.50,211.80 389.65,212.88 390.80,213.80 C391.95,214.72 393.23,215.52 394.40,216.30 C395.57,217.08 396.70,217.80 397.80,218.50 C398.90,219.20 399.93,219.83 401.00,220.50 C402.07,221.17 403.02,221.48 404.20,222.50 C405.38,223.52 406.47,225.15 408.10,226.60 C409.73,228.05 411.82,230.33 414.00,231.20 C416.18,232.07 418.92,231.77 421.20,231.80 C423.48,231.83 426.07,231.78 427.70,231.40 C429.33,231.02 430.02,230.02 431.00,229.50 C431.98,228.98 432.62,228.35 433.60,228.30 C434.58,228.25 435.75,228.58 436.90,229.20 C438.05,229.82 439.20,231.02 440.50,232.00 C441.80,232.98 443.12,234.20 444.70,235.10 C446.28,236.00 448.45,236.67 450.00,237.40 C451.55,238.13 452.70,238.80 454.00,239.50 C455.30,240.20 456.50,241.25 457.80,241.60 C459.10,241.95 460.60,241.82 461.80,241.60 C463.00,241.38 463.82,240.77 465.00,240.30 C466.18,239.83 467.65,239.05 468.90,238.80 C470.15,238.55 471.40,238.72 472.50,238.80 C473.60,238.88 474.35,238.93 475.50,239.30 C476.65,239.67 478.23,240.30 479.40,241.00 C480.57,241.70 481.42,242.73 482.50,243.50 C483.58,244.27 484.23,245.00 485.90,245.60 C487.57,246.20 490.32,246.57 492.50,247.10 C494.68,247.63 497.50,248.60 499.00,248.80 C500.50,249.00 500.62,248.58 501.50,248.30 C502.38,248.02 503.30,247.20 504.30,247.10 C505.30,247.00 506.42,247.48 507.50,247.70 C508.58,247.92 509.15,248.10 510.80,248.40 C512.45,248.70 515.87,249.13 517.40,249.50 C518.93,249.87 519.13,250.17 520.00,250.60 C520.87,251.03 521.73,251.57 522.60,252.10 C523.47,252.63 524.33,253.32 525.20,253.80 C526.07,254.28 526.83,254.75 527.80,255.00 C528.77,255.25 529.67,255.23 531.00,255.30 C532.33,255.37 535.00,255.38 535.80,255.40" fill="none" stroke="#161696" stroke-width="1.50" stroke-linejoin="round" stroke-linecap="round" clip-path="url(#pe)"/>
<line x1="108.90" y1="14.20" x2="132.50" y2="14.20" stroke="#14a07a" stroke-width="1.60"/>
<text x="135.70" y="17.20" font-size="10.10" text-anchor="start">RT</text>
<line x1="108.90" y1="27.90" x2="132.50" y2="27.90" stroke="#f47a2a" stroke-width="1.60"/>
<text x="135.70" y="30.90" font-size="10.10" text-anchor="start">150 &#176;C</text>
<line x1="108.90" y1="41.60" x2="132.50" y2="41.60" stroke="#8a84c4" stroke-width="1.60"/>
<text x="135.70" y="44.60" font-size="10.10" text-anchor="start">200 &#176;C</text>
<line x1="108.90" y1="55.30" x2="132.50" y2="55.30" stroke="#f0308a" stroke-width="1.60"/>
<text x="135.70" y="58.30" font-size="10.10" text-anchor="start">250 &#176;C</text>
<line x1="292.60" y1="14.30" x2="316.20" y2="14.30" stroke="#14a07a" stroke-width="1.60"/>
<text x="319.40" y="17.30" font-size="10.10" text-anchor="start">RT</text>
<line x1="292.60" y1="28.00" x2="316.20" y2="28.00" stroke="#f47a2a" stroke-width="1.60"/>
<text x="319.40" y="31.00" font-size="10.10" text-anchor="start">150 &#176;C</text>
<line x1="292.60" y1="41.70" x2="316.20" y2="41.70" stroke="#8a84c4" stroke-width="1.60"/>
<text x="319.40" y="44.70" font-size="10.10" text-anchor="start">200 &#176;C</text>
<line x1="292.60" y1="55.40" x2="316.20" y2="55.40" stroke="#f0308a" stroke-width="1.60"/>
<text x="319.40" y="58.40" font-size="10.10" text-anchor="start">250 &#176;C</text>
<line x1="473.90" y1="15.50" x2="497.50" y2="15.50" stroke="#14a07a" stroke-width="1.60"/>
<text x="500.70" y="18.50" font-size="10.10" text-anchor="start">RT</text>
<line x1="473.90" y1="29.40" x2="497.50" y2="29.40" stroke="#f47a2a" stroke-width="1.60"/>
<text x="500.70" y="32.40" font-size="10.10" text-anchor="start">150 &#176;C</text>
<line x1="473.90" y1="43.30" x2="497.50" y2="43.30" stroke="#8a84c4" stroke-width="1.60"/>
<text x="500.70" y="46.30" font-size="10.10" text-anchor="start">200 &#176;C</text>
<line x1="473.90" y1="57.20" x2="497.50" y2="57.20" stroke="#f0308a" stroke-width="1.60"/>
<text x="500.70" y="60.20" font-size="10.10" text-anchor="start">250 &#176;C</text>
<line x1="142.70" y1="171.60" x2="167.50" y2="171.60" stroke="#ae1a20" stroke-width="1.60"/>
<text x="169.60" y="174.90" font-size="10.10" text-anchor="start" transform="translate(169.60 0) scale(1.0700 1) translate(-169.60 0)">UiO-66-0BA (RT)</text>
<line x1="142.70" y1="184.70" x2="167.50" y2="184.70" stroke="#1f9426" stroke-width="1.60"/>
<text x="169.60" y="188.00" font-size="10.10" text-anchor="start" transform="translate(169.60 0) scale(1.0700 1) translate(-169.60 0)">UiO-66-10BA (RT)</text>
<line x1="142.70" y1="197.80" x2="167.50" y2="197.80" stroke="#161696" stroke-width="1.60"/>
<text x="169.60" y="201.10" font-size="10.10" text-anchor="start" transform="translate(169.60 0) scale(1.0700 1) translate(-169.60 0)">UiO-66-60BA (RT)</text>
<line x1="400.50" y1="172.40" x2="425.30" y2="172.40" stroke="#ae1a20" stroke-width="1.60"/>
<text x="427.70" y="175.40" font-size="10.10" text-anchor="start" transform="translate(427.70 0) scale(1.0700 1) translate(-427.70 0)">UiO-66-0BA (250&#176;C)</text>
<line x1="400.50" y1="186.80" x2="425.30" y2="186.80" stroke="#1f9426" stroke-width="1.60"/>
<text x="427.70" y="189.80" font-size="10.10" text-anchor="start" transform="translate(427.70 0) scale(1.0700 1) translate(-427.70 0)">UiO-66-10BA (250&#176;C)</text>
<line x1="400.50" y1="201.20" x2="425.30" y2="201.20" stroke="#161696" stroke-width="1.60"/>
<text x="427.70" y="204.20" font-size="10.10" text-anchor="start" transform="translate(427.70 0) scale(1.0700 1) translate(-427.70 0)">UiO-66-60BA (250&#176;C)</text>
<line x1="46.60" y1="166.70" x2="46.60" y2="186.60" stroke="#a3a3a3" stroke-width="1.00"/>
<line x1="45.80" y1="166.70" x2="47.40" y2="166.70" stroke="#9a9a9a" stroke-width="1.00"/>
<line x1="45.80" y1="186.60" x2="47.40" y2="186.60" stroke="#9a9a9a" stroke-width="1.00"/>
<text x="44.20" y="179.70" font-size="9.90" text-anchor="end">0.2</text>
<line x1="320.00" y1="165.50" x2="320.00" y2="185.50" stroke="#a3a3a3" stroke-width="1.00"/>
<line x1="319.20" y1="165.50" x2="320.80" y2="165.50" stroke="#9a9a9a" stroke-width="1.00"/>
<line x1="319.20" y1="185.50" x2="320.80" y2="185.50" stroke="#9a9a9a" stroke-width="1.00"/>
<text x="317.40" y="179.30" font-size="9.90" text-anchor="end">0.02</text></svg>
</body></html>
